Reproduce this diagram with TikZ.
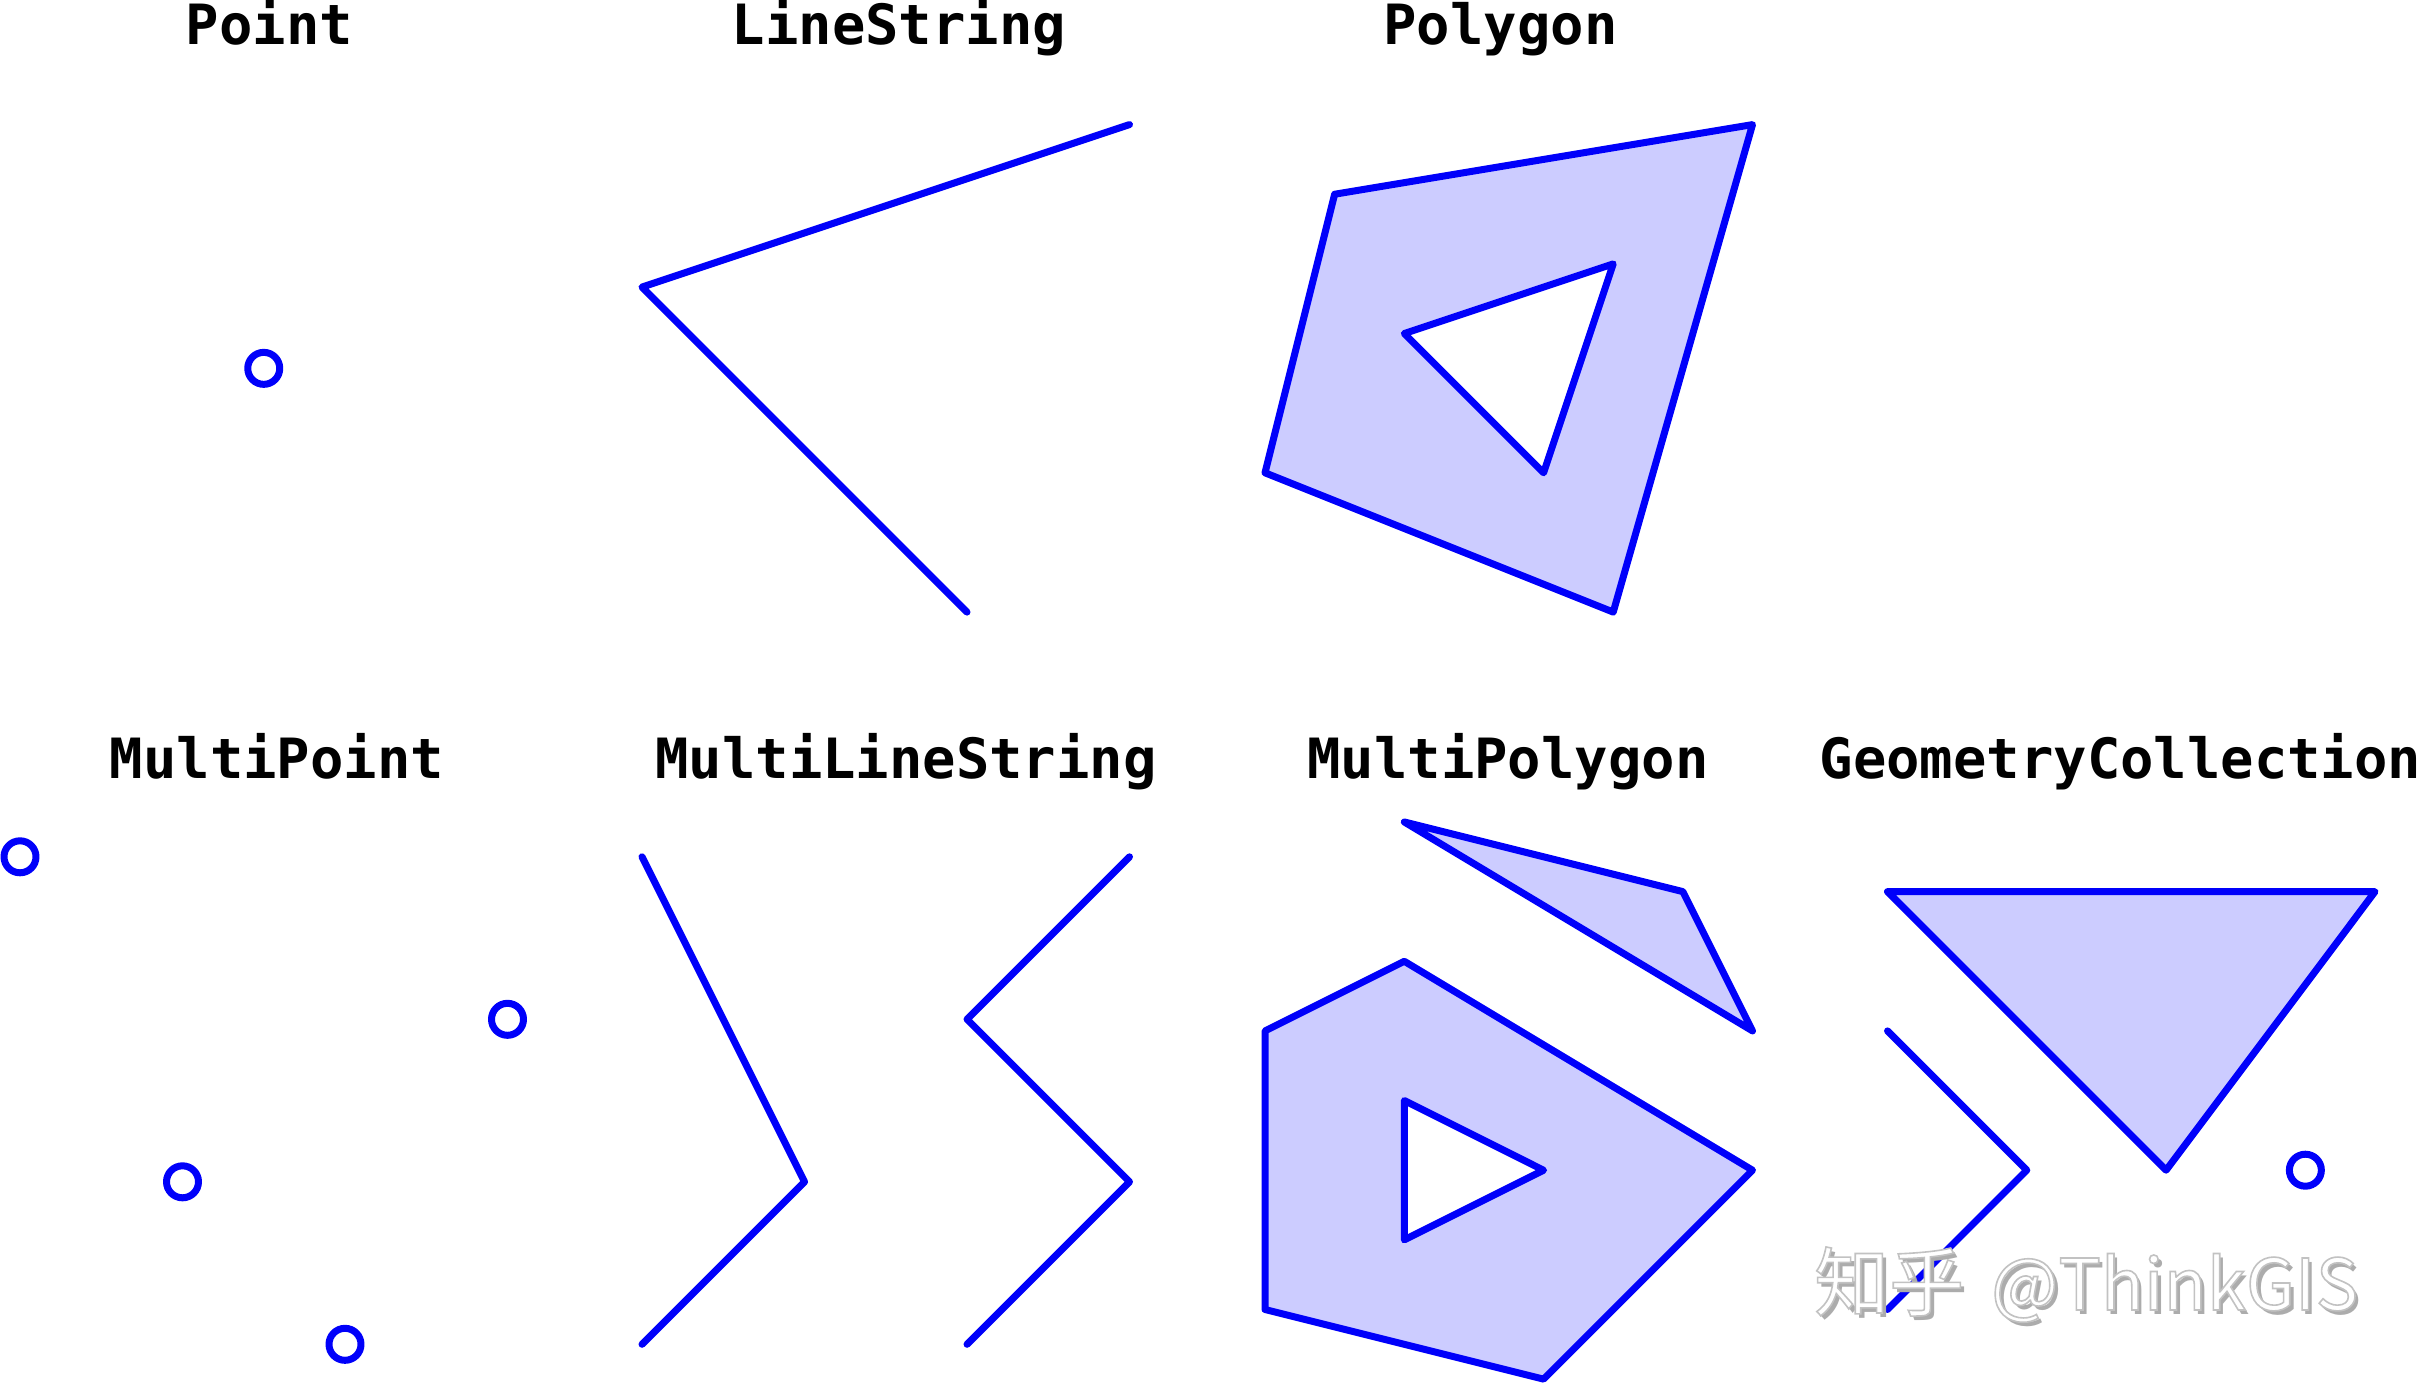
\documentclass[tikz,border=0pt]{standalone}
\usepackage{fontspec}
\newfontfamily\titlefont{DejaVu Sans Mono}
\newfontfamily\cjkfont{Noto Sans CJK SC}
\definecolor{geofill}{RGB}{204,204,255}
\definecolor{geoline}{RGB}{0,0,250}
\definecolor{wmshadow}{RGB}{172,172,172}
\newcommand{\wmface}[1]{%
  \rlap{\raisebox{-4pt}{\kern4pt\textcolor{wmshadow}{#1}}}%
  {\color{white}\special{pdf:literal direct 0.76 G 2 Tr 1.6 w}#1\special{pdf:literal direct 0 Tr}}}
\tikzset{
  geo/.style={draw=geoline, line width=7pt, line join=round, line cap=round},
  geopoly/.style={geo, fill=geofill, even odd rule},
  title/.style={font=\titlefont\bfseries\fontsize{55.5}{60}\selectfont, anchor=base, inner sep=0pt},
  wmcjk/.style={font=\cjkfont\fontsize{75}{80}\selectfont, anchor=base west, inner sep=0pt},
  wmlat/.style={font=\cjkfont\fontsize{71}{80}\selectfont, anchor=base west, inner sep=0pt},
}
\begin{document}
\begin{tikzpicture}[x=1pt,y=-1pt]
\fill[white] (0,0) rectangle (2418,1383);
\useasboundingbox (0,0) rectangle (2418,1383);

% titles
\node[title] (tPoint) at (269.5,45) {Point};
\node[title] (tLine) at (899,45) {LineString};
\node[title] (tPoly) at (1500.5,45) {Polygon};
\node[title] (tMPoint) at (277,778) {MultiPoint};
\node[title] (tMLine) at (906,778) {MultiLineString};
\node[title] (tMPoly) at (1508,778) {MultiPolygon};
\node[title, anchor=base west] (tGC) at (1819.5,778) {GeometryCollection};

% Point
\begin{scope}[shift={(20pt,-124.6pt)},x=162.5pt,y=-162.5pt]
  \draw[geo] (1.5,1.5) circle[radius=16pt];
\end{scope}

% LineString
\begin{scope}[shift={(642pt,-124.6pt)},x=162.5pt,y=-162.5pt]
  \draw[geo] (2,3) -- (0,1) -- (3,0);
\end{scope}

% Polygon
\begin{scope}[shift={(1265pt,-124.6pt)},x=162.5pt,y=-162.5pt]
  \draw[geopoly] (2.1429,3) -- (3,0) -- (0.4286,0.4286) -- (0,2.1429) -- cycle
    (0.8571,1.2857) -- (2.1429,0.8571) -- (1.7143,2.1429) -- cycle;
\end{scope}

% MultiPoint
\begin{scope}[shift={(20pt,-856.8pt)},x=162.5pt,y=-162.5pt]
  \draw[geo] (0,0) circle[radius=16pt];
  \draw[geo] (3,1) circle[radius=16pt];
  \draw[geo] (1,2) circle[radius=16pt];
  \draw[geo] (2,3) circle[radius=16pt];
\end{scope}

% MultiLineString
\begin{scope}[shift={(642pt,-856.8pt)},x=162.5pt,y=-162.5pt]
  \draw[geo] (0,3) -- (1,2) -- (0,0);
  \draw[geo] (3,0) -- (2,1) -- (3,2) -- (2,3);
\end{scope}

% MultiPolygon
\begin{scope}[shift={(1265pt,-856.8pt)},x=162.5pt,y=-162.5pt]
  \draw[geopoly] (2.5714,0.2143) -- (0.8571,-0.2143) -- (3,1.0714) -- cycle;
  \draw[geopoly] (0.8571,0.6429) -- (0,1.0714) -- (0,2.7857) -- (1.7143,3.2143) -- (3,1.9286) -- cycle
    (1.7143,1.9286) -- (0.8571,2.3571) -- (0.8571,1.5) -- cycle;
\end{scope}

% GeometryCollection
\begin{scope}[shift={(1887.5pt,-856.8pt)},x=162.5pt,y=-162.5pt]
  \draw[geopoly] (0,0.2143) -- (3,0.2143) -- (1.7143,1.9286) -- cycle;
  \draw[geo] (0,1.0714) -- (0.8571,1.9286) -- (0,2.7857);
  \draw[geo] (2.5714,1.9286) circle[radius=16pt];
\end{scope}

% watermark
\node[wmcjk] (wmA) at (1814,1310) {\wmface{知乎}};
\node[wmlat] (wmB) at (1991,1310) {\wmface{@ThinkGIS}};
\end{tikzpicture}
\end{document}
